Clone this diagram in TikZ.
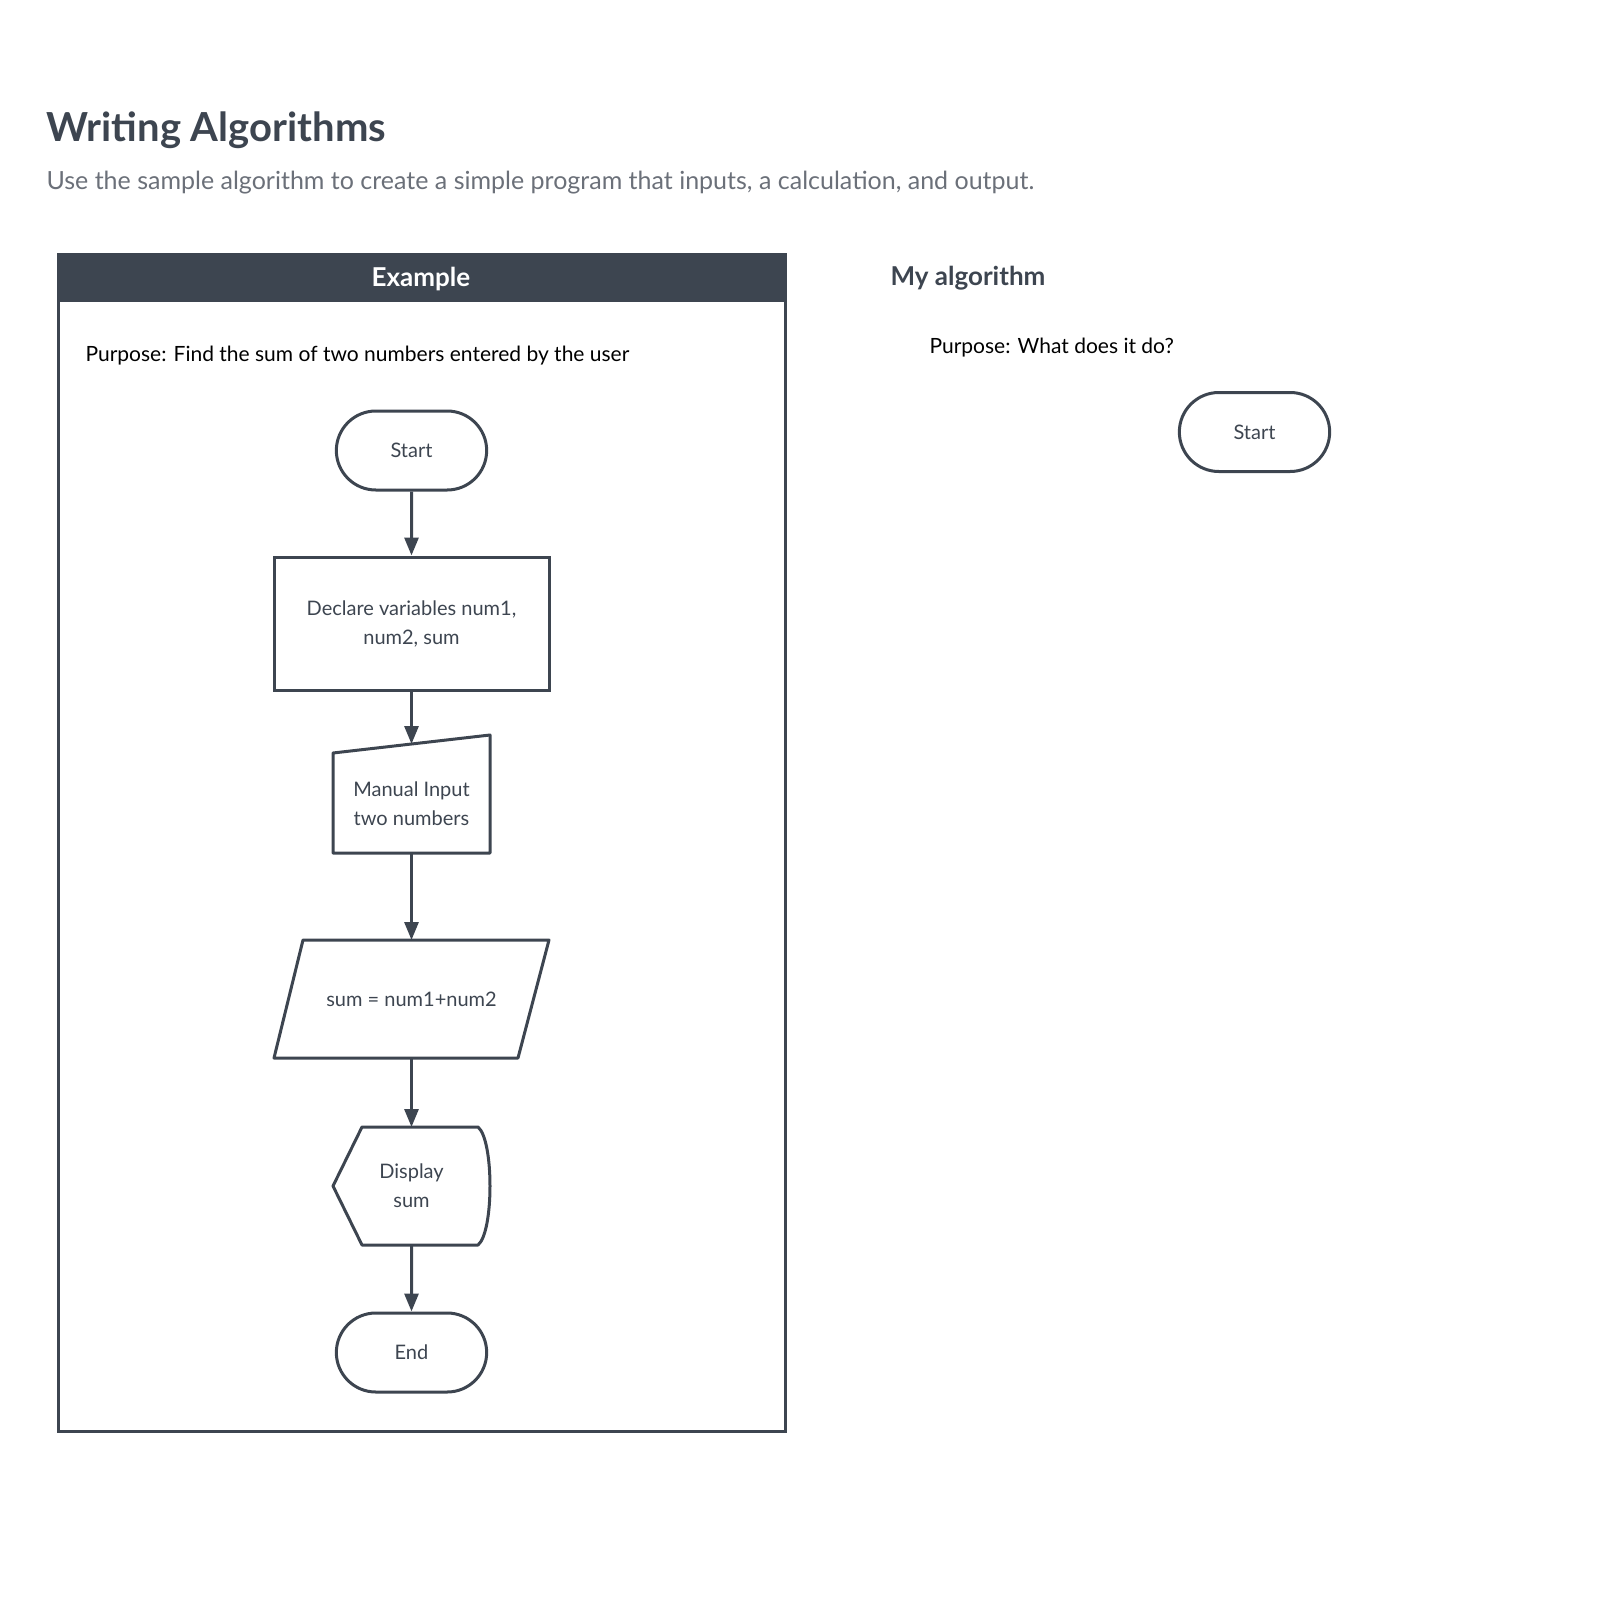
\documentclass[tikz,border=0pt]{standalone}
\usepackage{fontspec}
\setmainfont{Lato}
\usetikzlibrary{shapes.misc,arrows.meta,positioning}
\definecolor{slate}{HTML}{3D4550}
\definecolor{greytext}{HTML}{6B7079}
\tikzset{
  Term/.style={draw=slate, line width=3pt, rounded rectangle, minimum width=157pt, minimum height=79pt, text=slate, font=\fontsize{20}{24}\selectfont},
  Block/.style={draw=slate, line width=3pt, minimum width=275pt, minimum height=133pt, text=slate, align=center, font=\fontsize{20}{29}\selectfont},
  Label/.style={text=slate, align=center, font=\fontsize{20}{29}\selectfont},
  Flow/.style={draw=slate, line width=3pt, -{Triangle[length=18pt,width=14pt]}},
}
\begin{document}
\begin{tikzpicture}[x=1pt,y=-1pt]
\useasboundingbox (0,0) rectangle (1600,1600);
% headings
\node [anchor=base west, text=slate, font=\fontsize{40}{48}\selectfont\bfseries] (title) at (43,142) {Writing Algorithms};
\node [anchor=base west, text=greytext, font=\fontsize{25}{30}\selectfont\addfontfeature{Weight=300}] (sub) at (43,189) {Use the sample algorithm to create a simple program that inputs, a calculation, and output.};
% example frame
\draw [slate, line width=3pt] (58,254) rectangle (785,1431);
\fill [slate] (58,254) rectangle (785,302);
\node [text=white, font=\fontsize{26}{30}\selectfont\bfseries] (ex) at (421,279) {Example};
\node [anchor=base west, font=\fontsize{21}{25}\selectfont] (purpose) at (82,361) {Purpose: Find the sum of two numbers entered by the user};
% flowchart
\node [Term] (start) at (411.5,450.5) {Start};
\node [Block] (decl) at (411.5,623.5) {Declare variables num1,\\num2, sum};
\draw [slate, line width=3pt, line join=round] (333,753) -- (490,735) -- (490,853) -- (333,853) -- cycle;
\node [Label] (input) at (411.5,804) {Manual Input\\two numbers};
\draw [slate, line width=3pt, line join=round] (303,940) -- (549,940) -- (518,1058) -- (274,1058) -- cycle;
\node [Label] (calc) at (411.5,999) {sum = num1+num2};
\draw [slate, line width=3pt, line join=round] (333,1186) -- (362,1127) -- (478,1127) .. controls (494,1140) and (494,1232) .. (478,1245) -- (362,1245) -- cycle;
\node [Label] (disp) at (411.5,1186) {Display\\sum};
\node [Term] (stop) at (411.5,1352.5) {End};
\coordinate (inTop) at (411.5,744);
\coordinate (inBot) at (411.5,853);
\coordinate (calcTop) at (411.5,940);
\coordinate (calcBot) at (411.5,1058);
\coordinate (dispTop) at (411.5,1127);
\coordinate (dispBot) at (411.5,1245);
\draw [Flow] (start) -- (decl);
\draw [Flow] (decl) -- (inTop);
\draw [Flow] (inBot) -- (calcTop);
\draw [Flow] (calcBot) -- (dispTop);
\draw [Flow] (dispBot) -- (stop);
% my algorithm
\node [anchor=base west, text=slate, font=\fontsize{26}{30}\selectfont\bfseries] (mine) at (887,285) {My algorithm};
\node [anchor=base west, font=\fontsize{21}{25}\selectfont] (mypurpose) at (926,353) {Purpose: What does it do?};
\node [Term] (mystart) at (1254.5,432) {Start};
\end{tikzpicture}
\end{document}
